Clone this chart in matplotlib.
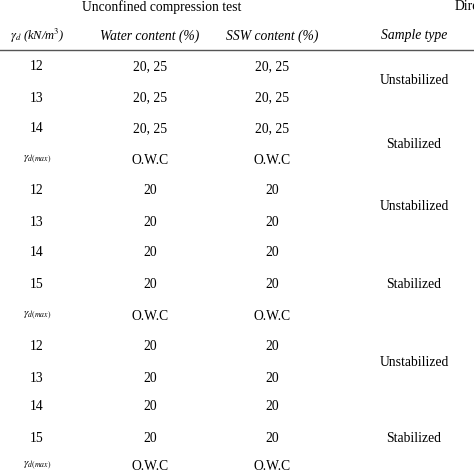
import matplotlib
matplotlib.use("Agg")
import matplotlib.pyplot as plt

gamma = ["12", "13", "14", "γd(max)", "12", "13", "14", "15", "γd(max)", "12", "13", "14", "15", "γd(max)"]
water = ["20, 25", "20, 25", "20, 25", "O.W.C", "20", "20", "20", "20", "O.W.C", "20", "20", "20", "20", "O.W.C"]
ssw = ["20, 25", "20, 25", "20, 25", "O.W.C", "20", "20", "20", "20", "O.W.C", "20", "20", "20", "20", "O.W.C"]
sample_types = ["Unstabilized", "Stabilized", "Unstabilized", "Stabilized", "Unstabilized", "Stabilized"]
headers = ["Water content (%)", "SSW content (%)", "Sample type"]

row_y = [67, 98, 129, 160, 190, 222, 253, 284, 316, 347, 378, 407, 438, 466]
type_y = [81, 144, 206, 284, 362, 438]

W = H = 474
fig = plt.figure(figsize=(4.74, 4.74), dpi=100)
plt.rcParams['font.family'] = ['Liberation Serif', 'DejaVu Serif']
plt.rcParams['mathtext.fontset'] = 'stix'
FS = 9.8

def t(x, y, s, **kw):
    kw.setdefault('fontsize', FS)
    fig.text(x / W, 1 - y / H, s, ha='center', va='center', **kw)

t(162, 7, "Unconfined compression test")
fig.text(455 / W, 1 - 7 / H, "Dire", ha='left', va='center', fontsize=FS)
t(37, 36, r"$\gamma_d$ (kN/m$^3$)", style='italic', fontsize=9)
t(150, 36, headers[0], style='italic')
t(272, 36, headers[1], style='italic')
t(414, 36, headers[2], style='italic')
fig.add_artist(plt.Line2D([0, 1], [1 - 50 / H] * 2, color='#555555', lw=1.0))

for g, w, s, y in zip(gamma, water, ssw, row_y):
    if g.startswith("γ"):
        t(37, y, r"$\gamma_{d(max)}$", fontsize=8)
    else:
        t(37, y, g)
    t(150, y, w)
    t(272, y, s)
for s, y in zip(sample_types, type_y):
    t(414, y, s)

fig.savefig("out.png", dpi=100, facecolor='white')
